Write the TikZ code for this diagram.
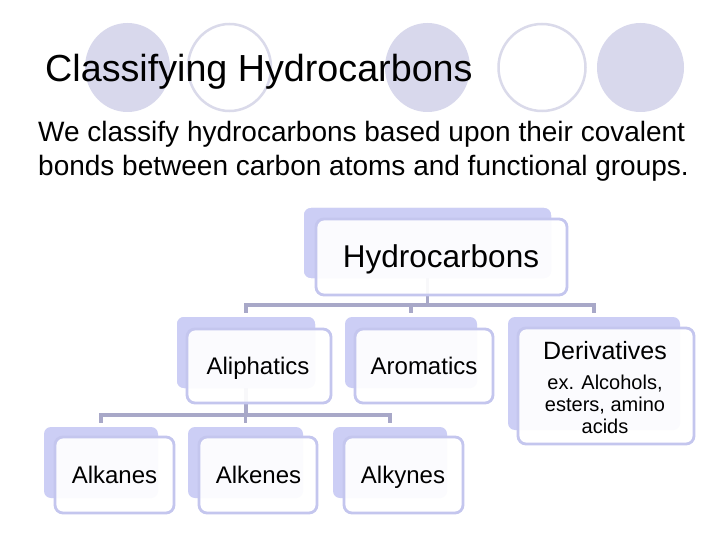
\documentclass[tikz,border=0pt]{standalone}
\usepackage{fontspec}
\setmainfont{Liberation Sans}
\usetikzlibrary{calc}
\definecolor{circfill}{RGB}{216,216,236}
\definecolor{circline}{RGB}{218,218,234}
\definecolor{shadowfill}{RGB}{204,206,245}
\definecolor{frontline}{RGB}{196,198,238}
\definecolor{connline}{RGB}{168,168,200}
\begin{document}
\begin{tikzpicture}[x=1pt,y=-1pt,
  shadowbox/.style={draw=none, fill=shadowfill, rounded corners=7pt, inner sep=0pt, outer sep=0pt},
  frontbox/.style={draw=frontline, line width=2.8pt, fill=white, fill opacity=0.92, rounded corners=8pt, inner sep=0pt, outer sep=0pt},
  conn/.style={draw=connline, line width=3.5pt},
  lbl/.style={anchor=base, inner sep=0pt, text=black, font=\fontsize{24}{28}\selectfont},
  sublbl/.style={anchor=base, inner sep=0pt, text=black, font=\fontsize{20}{22}\selectfont},
  ]
\useasboundingbox (0,0) rectangle (720,540);
\fill[white] (0,0) rectangle (720,540);

% decorative circles
\fill[circfill] (127.5,67.5) ellipse [x radius=42.5, y radius=44.5];
\draw[circline, line width=2.5pt] (229.5,67.5) ellipse [x radius=41.5, y radius=43.5];
\fill[circfill] (427.5,67.5) ellipse [x radius=42.5, y radius=44.5];
\draw[circline, line width=2.5pt] (542,67.5) ellipse [x radius=43.5, y radius=43.5];
\fill[circfill] (640.5,67.5) ellipse [x radius=43.5, y radius=44.5];

% title and intro
\node[anchor=base west, inner sep=0pt, font=\fontsize{37.7}{40}\selectfont] (title) at (45,82) {Classifying Hydrocarbons};
\node[anchor=base west, inner sep=0pt, font=\fontsize{28}{32}\selectfont] (intro1) at (38,142) {We classify hydrocarbons based upon their covalent};
\node[anchor=base west, inner sep=0pt, font=\fontsize{28}{32}\selectfont] (intro2) at (38,176) {bonds between carbon atoms and functional groups.};

% shadow boxes
\node[shadowbox, minimum width=247pt, minimum height=70pt] (hydS) at (427.5,243) {};
\node[shadowbox, minimum width=138pt, minimum height=71pt] (aliS) at (246,352.5) {};
\node[shadowbox, minimum width=132pt, minimum height=71pt] (aroS) at (411,352.5) {};
\node[shadowbox, minimum width=172pt, minimum height=113pt] (derS) at (594,373.5) {};
\node[shadowbox, minimum width=114pt, minimum height=71pt] (alaS) at (101,462.5) {};
\node[shadowbox, minimum width=115pt, minimum height=71pt] (aleS) at (245.5,462.5) {};
\node[shadowbox, minimum width=114pt, minimum height=71pt] (alyS) at (390,462.5) {};

% connectors
\coordinate (bus1) at (0,305);
\coordinate (bus2) at (0,415);
\draw[conn] (hydS.center) -- (hydS.center |- bus1) -| ($(aliS.north)+(0,-4)$);
\draw[conn] (hydS.center |- bus1) -| ($(aroS.north)+(0,-4)$);
\draw[conn] (hydS.center |- bus1) -| ($(derS.north)+(0,-4)$);
\draw[conn] (aliS.center) -- (aliS.center |- bus2) -| ($(alaS.north)+(0,-4)$);
\draw[conn] (aliS.center |- bus2) -| ($(aleS.north)+(0,-4)$);
\draw[conn] (aliS.center |- bus2) -| ($(alyS.north)+(0,-4)$);

% redraw shadows over connector starts
\fill[shadowfill, rounded corners=7pt] (hydS.north west) rectangle (hydS.south east);
\fill[shadowfill, rounded corners=7pt] (aliS.north west) rectangle (aliS.south east);

% front boxes
\node[frontbox, minimum width=251pt, minimum height=76pt] (hyd) at (441.5,257) {};
\node[frontbox, minimum width=144pt, minimum height=74pt] (ali) at (259,366) {};
\node[frontbox, minimum width=138pt, minimum height=74pt] (aro) at (424,366) {};
\node[frontbox, minimum width=176pt, minimum height=116pt] (der) at (606,386) {};
\node[frontbox, minimum width=119pt, minimum height=76pt] (ala) at (114.5,475) {};
\node[frontbox, minimum width=118pt, minimum height=76pt] (ale) at (258,475) {};
\node[frontbox, minimum width=119pt, minimum height=76pt] (aly) at (403.5,475) {};

% labels
\node[lbl, font=\fontsize{31.5}{34}\selectfont] (hydT) at (441,267) {Hydrocarbons};
\node[lbl] (aliT) at (258,374) {Aliphatics};
\node[lbl] (aroT) at (424,374) {Aromatics};
\node[lbl, font=\fontsize{25}{28}\selectfont] (derT) at (605,359) {Derivatives};
\node[sublbl] (derT1) at (605,389) {ex. Alcohols,};
\node[sublbl] (derT2) at (605,411) {esters, amino};
\node[sublbl] (derT3) at (605,433) {acids};
\node[lbl] (alaT) at (114.5,483) {Alkanes};
\node[lbl] (aleT) at (258.5,483) {Alkenes};
\node[lbl] (alyT) at (403,483) {Alkynes};
\end{tikzpicture}
\end{document}
